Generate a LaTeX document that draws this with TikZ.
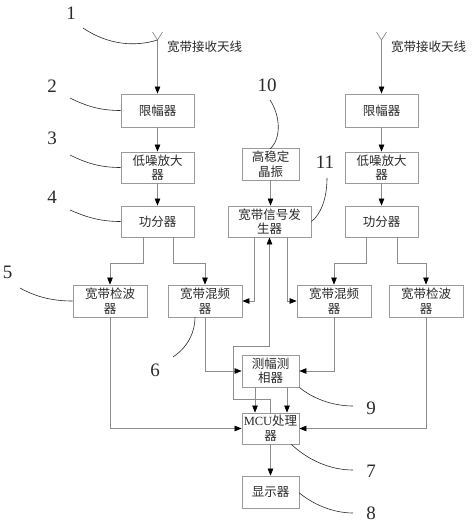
\documentclass[tikz,border=0pt]{standalone}
\usepackage{fontspec}
\setmainfont{Noto Sans CJK SC}
\newfontfamily\lat{Liberation Serif}
\usetikzlibrary{arrows.meta}
\definecolor{boxc}{HTML}{9A9A9A}
\definecolor{linec}{HTML}{8C8C8C}
\definecolor{txtc}{HTML}{2A2A2A}
\begin{document}
\begin{tikzpicture}[x=1pt,y=-1pt,
  blk/.style={draw=boxc,line width=0.8pt,minimum height=31pt,inner sep=0pt,align=center,
    font=\fontsize{12.5}{14.5}\selectfont,text=txtc},
  wide/.style={blk,minimum width=73pt},
  narrow/.style={blk,minimum width=57pt},
  arr/.style={draw=linec,line width=0.7pt,-{Triangle[length=7pt,width=5.5pt,color=black]}},
  ln/.style={draw=linec,line width=0.7pt},
  lead/.style={draw=txtc,line width=0.6pt},
  num/.style={font=\lat\fontsize{19}{19}\selectfont,text=txtc,inner sep=0pt},
  anttxt/.style={font=\fontsize{12.5}{14}\selectfont,text=txtc,anchor=west,inner sep=0pt}]
\useasboundingbox (0,0) rectangle (474,524);

% left chain
\node[wide,minimum height=33pt] (lim1) at (157.5,110.5) {限幅器};
\node[wide] (lna1) at (157.5,167.5) {低噪放大\\器};
\node[wide] (spl1) at (157.5,221.5) {功分器};
\node[wide,minimum width=74pt,minimum height=32pt] (det1) at (110,301) {宽带检波\\器};
\node[wide,minimum width=74pt,minimum height=32pt] (mix1) at (205,301) {宽带混频\\器};

% right chain
\node[wide,minimum height=33pt] (lim2) at (381.5,110.5) {限幅器};
\node[wide] (lna2) at (381.5,167.5) {低噪放大\\器};
\node[wide] (spl2) at (381.5,221.5) {功分器};
\node[wide,minimum width=74pt,minimum height=32pt] (mix2) at (334,301) {宽带混频\\器};
\node[wide,minimum width=74pt,minimum height=32pt] (det2) at (426,301) {宽带检波\\器};

% middle
\node[narrow,minimum height=32pt] (osc) at (270.5,164) {高稳定\\晶振};
\node[blk,minimum width=83pt] (gen) at (269.5,221.5) {宽带信号发\\生器};
\node[narrow,minimum height=32pt] (amp) at (270.5,371) {测幅测\\相器};
\node[narrow] (mcu) at (270.5,428.5) {{\lat MCU}处理\\器};
\node[narrow,minimum height=32pt] (disp) at (270.5,492) {显示器};

% antennas
\coordinate (ant1) at (157.5,40);
\coordinate (ant2) at (381.5,40);
\draw[ln] (152.5,32) -- (ant1) -- (162.5,32);
\draw[ln] (376.5,32) -- (ant2) -- (386.5,32);
\node[anttxt] (at1) at (167,47) {宽带接收天线};
\node[anttxt] (at2) at (391,47) {宽带接收天线};

\draw[arr] (ant1) -- (lim1.north);
\draw[arr] (lim1) -- (lna1);
\draw[arr] (lna1) -- (spl1);
\draw[arr] (ant2) -- (lim2.north);
\draw[arr] (lim2) -- (lna2);
\draw[arr] (lna2) -- (spl2);

% splitter outputs
\draw[arr] ([xshift=-14.5pt]spl1.south) -- ++(0,26) -| (det1.north);
\draw[arr] ([xshift=15.5pt]spl1.south) -- ++(0,26) -| (mix1.north);
\draw[arr] ([xshift=-15.5pt]spl2.south) -- ++(0,26) -| (mix2.north);
\draw[arr] ([xshift=15.5pt]spl2.south) -- ++(0,26) -| (det2.north);

% oscillator and generator
\draw[arr] (osc.south) -- (osc.south |- gen.north);
\draw[arr] ([xshift=-15.5pt]gen.south) |- (mix1.east);
\draw[arr] ([xshift=17.5pt]gen.south) |- (mix2.west);

% to amp/phase and MCU
\draw[arr] (mix1.south) |- (amp.west);
\draw[arr] (mix2.south) |- (amp.east);
\draw[arr] (det1.south) |- (mcu.west);
\draw[arr] (det2.south) |- (mcu.east);
\draw[arr] ([xshift=-15.5pt]amp.south) -- ([xshift=-15.5pt]mcu.north);
\draw[arr] ([xshift=16.5pt]amp.south) -- ([xshift=16.5pt]mcu.north);
\draw[arr] (mcu.north) -- ++(0,-13) -- ++(-37.5,0) -- ++(0,-53) -| (gen.south);
\draw[arr] (mcu.south) -- (disp.north);

% reference numbers and leaders
\node[num] (n1) at (71,13) {1};
\draw[lead] (83,28) .. controls (108,45) and (135,47) .. (ant1);
\node[num] (n2) at (52,86) {2};
\draw[lead] (70,98) .. controls (88,107) and (102,110.5) .. (lim1.west);
\node[num] (n3) at (52,138) {3};
\draw[lead] (70,155) .. controls (88,164) and (102,167.5) .. (lna1.west);
\node[num] (n4) at (52,197) {4};
\draw[lead] (70,210) .. controls (88,218) and (102,221.5) .. (spl1.west);
\node[num] (n5) at (7.5,272) {5};
\draw[lead] (20,288) .. controls (38,298) and (55,301) .. (det1.west);
\node[num] (n6) at (155,370) {6};
\draw[lead] (173,357) .. controls (188,347) and (195,332) .. ([xshift=-10pt]mix1.south);
\node[num] (n10) at (267,85) {10};
\draw[lead] (270,100) .. controls (280,115) and (282,138) .. (270,149);
\node[num] (n11) at (325,162) {11};
\draw[lead] (327,178) .. controls (327,200) and (320,215) .. (gen.east);
\node[num] (n9) at (371,408) {9};
\draw[lead] (amp.south east) .. controls (312,398) and (332,406) .. (353,406);
\node[num] (n7) at (371,471) {7};
\draw[lead] ([xshift=-8pt]mcu.south east) .. controls (308,460) and (330,470) .. (353,470);
\node[num] (n8) at (371,513) {8};
\draw[lead] ([yshift=-1pt]disp.east) .. controls (314,505) and (334,513) .. (353,513);
\end{tikzpicture}
\end{document}
